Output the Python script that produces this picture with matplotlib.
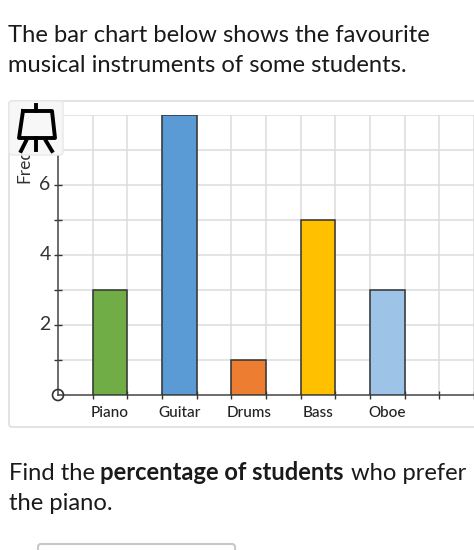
import matplotlib
matplotlib.use("Agg")
import matplotlib.pyplot as plt
from matplotlib.patches import FancyBboxPatch, Circle

categories = ["Piano", "Guitar", "Drums", "Bass", "Oboe"]
values = [3, 8, 1, 5, 3]
colors = ["#70ad47", "#5b9bd5", "#ed7d31", "#ffc000", "#9dc3e6"]
y_labels = [2, 4, 6]

plt.rcParams['font.family'] = ['Lato', 'DejaVu Sans']

fig = plt.figure(figsize=(4.74, 5.5), dpi=100)


def pixel_axes(z):
    a = fig.add_axes([0, 0, 1, 1], zorder=z)
    a.set_xlim(0, 474)
    a.set_ylim(550, 0)
    a.axis("off")
    a.patch.set_alpha(0)
    return a


# background: card + page text
bg = pixel_axes(0)
bg.add_patch(FancyBboxPatch((9, 101), 500, 326, boxstyle="round,pad=0,rounding_size=3",
                            fc="white", ec="#dedede", lw=1.2))
bg.text(8, 42, "The bar chart below shows the favourite", fontsize=17.15, color="#1a1a1a")
bg.text(8, 72, "musical instruments of some students.", fontsize=17.15, color="#1a1a1a")
bg.text(9, 480, "Find the", fontsize=17.15, color="#1a1a1a")
bg.text(100, 480, "percentage of students", fontsize=17.15, fontweight="bold", color="#1a1a1a")
bg.text(351, 480, "who prefer", fontsize=17.15, color="#1a1a1a")
bg.text(9, 510, "the piano.", fontsize=17.15, color="#1a1a1a")
bg.add_patch(FancyBboxPatch((38, 544), 197, 20, boxstyle="round,pad=0,rounding_size=3",
                            fc="white", ec="#c8c8c8", lw=1.5))

# chart
ax = fig.add_axes([58 / 474, 1 - 395 / 550, 416 / 474, 280 / 550], zorder=1)
ax.patch.set_alpha(0)
ax.set_xlim(0, 12)
ax.set_ylim(0, 8)
xpos = [1.5 + 2 * i for i in range(len(categories))]
ax.bar(xpos, values, width=1, color=colors, edgecolor="#333333", linewidth=1.1, zorder=3)
ax.set_axisbelow(True)
ax.grid(color="#dcdcdc", linewidth=1.1)
ax.set_xticks(range(1, 13))
ax.set_yticks(range(1, 9))
ax.set_xticklabels([])
ax.set_yticklabels([])
ax.tick_params(axis="both", direction="inout", length=6, width=1, color="#333333")
for s in ["top", "right"]:
    ax.spines[s].set_visible(False)
for s in ["left", "bottom"]:
    ax.spines[s].set_color("#444444")
    ax.spines[s].set_linewidth(1.1)
for x, c in zip(xpos, categories):
    ax.annotate(c, (x, 0), xytext=(0, -18), textcoords="offset pixels", ha="center", va="center",
                fontsize=11, fontweight="medium", color="#222222")
for v in y_labels:
    ax.annotate(str(v), (0, v), xytext=(-13, 0), textcoords="offset pixels", ha="center", va="center",
                fontsize=14, color="#333333")

# overlay: origin circle, axis title, easel button
top = pixel_axes(2)
top.add_patch(Circle((58, 395), 5.5, fc="none", ec="#333333", lw=1.2))
top.text(24, 183, "Frequency", rotation=90, ha="center", va="bottom", fontsize=12.5, color="#333333")
top.add_patch(FancyBboxPatch((9, 101), 54, 54, boxstyle="round,pad=0,rounding_size=3",
                             fc="#f7f7f7", ec="#e8e8e8", lw=1, zorder=5))
top.plot([36.5, 36.5], [105, 111], color="black", lw=2.8, zorder=6)
top.plot([23, 52, 55, 19, 23], [111, 111, 138, 138, 111], color="black", lw=2.8, zorder=6)
top.plot([36.5, 36.5], [138, 150], color="black", lw=2.8, zorder=6)
top.plot([26, 21], [141, 151], color="black", lw=2.8, zorder=6)
top.plot([46, 52], [141, 151], color="black", lw=2.8, zorder=6)

fig.savefig("out.png", dpi=100)
